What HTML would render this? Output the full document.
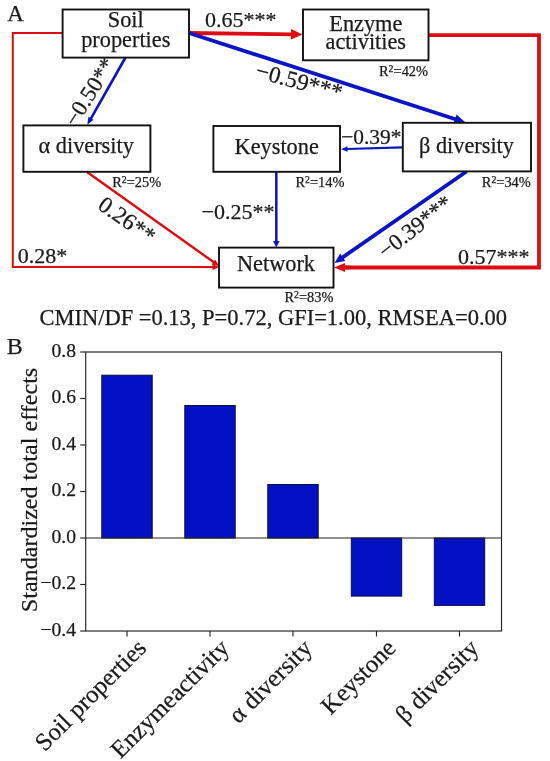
<!DOCTYPE html>
<html><head><meta charset="utf-8"><title>SEM</title>
<style>
html,body{margin:0;padding:0;background:#fff;}
svg{display:block;font-family:"Liberation Serif","DejaVu Serif",serif;fill:#1a1a1a;}
svg text{stroke:#1a1a1a;stroke-width:0.25px;}
</style></head>
<body>
<svg width="550" height="761" viewBox="0 0 550 761">
<rect width="550" height="761" fill="#ffffff"/>
<polyline points="62.5,33 12.8,33 12.8,267.1 213,267.1" fill="none" stroke="#dc0c12" stroke-width="2" stroke-linejoin="miter"/>
<line x1="205.0" y1="267.1" x2="213.9" y2="267.1" stroke="#dc0c12" stroke-width="2"/><polygon points="219.5,267.1 212.5,269.9 212.5,264.3" fill="#dc0c12"/>
<polyline points="428.5,35.1 539,35.1 539,267.5 345,267.5" fill="none" stroke="#dc0c12" stroke-width="3.8" stroke-linejoin="miter"/>
<line x1="350.0" y1="267.5" x2="342.8" y2="267.5" stroke="#dc0c12" stroke-width="3.8"/><polygon points="334.0,267.5 345.0,263.0 345.0,272.0" fill="#dc0c12"/>
<line x1="189.0" y1="33.0" x2="293.3" y2="34.4" stroke="#dc0c12" stroke-width="3.8"/><polygon points="302.5,34.5 290.9,39.6 291.1,29.1" fill="#dc0c12"/>
<line x1="189.0" y1="33.0" x2="457.1" y2="119.8" stroke="#0a14c4" stroke-width="3.8"/><polygon points="465.5,122.5 453.6,123.6 456.5,114.6" fill="#0a14c4"/>
<line x1="125.5" y1="57.5" x2="90.3" y2="119.6" stroke="#0a14c4" stroke-width="2.6"/><polygon points="87.3,124.8 88.4,116.8 93.6,119.8" fill="#0a14c4"/>
<line x1="87.0" y1="172.0" x2="214.6" y2="262.8" stroke="#dc0c12" stroke-width="2.4"/><polygon points="219.5,266.3 211.7,264.4 215.1,259.5" fill="#dc0c12"/>
<line x1="403.0" y1="147.4" x2="346.2" y2="149.0" stroke="#0a14c4" stroke-width="2.1"/><polygon points="341.0,149.2 347.4,146.2 347.6,151.8" fill="#0a14c4"/>
<line x1="276.3" y1="172.0" x2="276.3" y2="242.4" stroke="#0a14c4" stroke-width="2.5"/><polygon points="276.3,247.6 273.1,241.1 279.6,241.1" fill="#0a14c4"/>
<line x1="466.5" y1="171.5" x2="341.1" y2="258.4" stroke="#0a14c4" stroke-width="3.8"/><polygon points="334.5,263.0 340.2,253.6 345.3,261.0" fill="#0a14c4"/>
<rect x="62.6" y="9.5" width="126.4" height="48.1" fill="#fff" stroke="#111" stroke-width="1.9"/>
<rect x="303" y="9.5" width="125.5" height="50.8" fill="#fff" stroke="#111" stroke-width="1.9"/>
<rect x="23.4" y="125.4" width="127.0" height="46.400000000000006" fill="#fff" stroke="#111" stroke-width="1.9"/>
<rect x="213.4" y="126" width="126.6" height="45.80000000000001" fill="#fff" stroke="#111" stroke-width="1.9"/>
<rect x="402.8" y="122.8" width="128.2" height="48.60000000000001" fill="#fff" stroke="#111" stroke-width="1.9"/>
<rect x="219" y="247.6" width="114.5" height="40.00000000000003" fill="#fff" stroke="#111" stroke-width="1.9"/>
<text x="125.8" y="27.2" font-size="22.3" text-anchor="middle">Soil</text>
<text x="125.8" y="47.2" font-size="22.3" text-anchor="middle">properties</text>
<text x="365.8" y="30.5" font-size="22.3" text-anchor="middle">Enzyme</text>
<text x="365.8" y="48.6" font-size="22.3" text-anchor="middle">activities</text>
<text x="86.2" y="153.4" font-size="22.3" text-anchor="middle">α diversity</text>
<text x="276.7" y="154" font-size="22.3" text-anchor="middle">Keystone</text>
<text x="466.5" y="153" font-size="22.3" text-anchor="middle">β diversity</text>
<text x="276" y="270.7" font-size="22.3" text-anchor="middle">Network</text>
<text x="379" y="76" font-size="14" textLength="49" lengthAdjust="spacingAndGlyphs">R<tspan dy="-4" font-size="9.6">2</tspan><tspan dy="4">=42%</tspan></text>
<text x="112.2" y="186.5" font-size="14" textLength="49" lengthAdjust="spacingAndGlyphs">R<tspan dy="-4" font-size="9.6">2</tspan><tspan dy="4">=25%</tspan></text>
<text x="295.4" y="186.5" font-size="14" textLength="49" lengthAdjust="spacingAndGlyphs">R<tspan dy="-4" font-size="9.6">2</tspan><tspan dy="4">=14%</tspan></text>
<text x="481.8" y="187" font-size="14" textLength="49" lengthAdjust="spacingAndGlyphs">R<tspan dy="-4" font-size="9.6">2</tspan><tspan dy="4">=34%</tspan></text>
<text x="284.4" y="301.8" font-size="14" textLength="49" lengthAdjust="spacingAndGlyphs">R<tspan dy="-4" font-size="9.6">2</tspan><tspan dy="4">=83%</tspan></text>
<text x="205" y="26.7" font-size="22" text-anchor="start">0.65***</text>
<text x="17.8" y="263" font-size="22" text-anchor="start">0.28*</text>
<text x="458" y="263.5" font-size="22" text-anchor="start">0.57***</text>
<text x="341.2" y="143.8" font-size="21.4" text-anchor="start">−0.39*</text>
<text x="201.5" y="219.3" font-size="22" text-anchor="start">−0.25**</text>
<text x="76" y="128" font-size="22.8" text-anchor="start" transform="rotate(-58 76 128)">−0.50**</text>
<text x="254.5" y="77.3" font-size="23.2" text-anchor="start" transform="rotate(15 254.5 77.3)">−0.59***</text>
<text x="96.5" y="208" font-size="23.2" text-anchor="start" transform="rotate(35 96.5 208)">0.26**</text>
<text x="385.5" y="259.5" font-size="22.8" text-anchor="start" transform="rotate(-38 385.5 259.5)">−0.39***</text>
<text x="7.2" y="20.9" font-size="23" text-anchor="start">A</text>
<text x="39.4" y="325.4" font-size="22.5" text-anchor="start">CMIN/DF =0.13, P=0.72, GFI=1.00, RMSEA=0.00</text>
<text x="6.8" y="354.2" font-size="24" text-anchor="start">B</text>
<rect x="101.8" y="375.2" width="50.4" height="162.8" fill="#0410c4" stroke="#0c0c40" stroke-width="1"/>
<rect x="184.8" y="405.5" width="50.4" height="132.5" fill="#0410c4" stroke="#0c0c40" stroke-width="1"/>
<rect x="267.8" y="484.5" width="50.4" height="53.5" fill="#0410c4" stroke="#0c0c40" stroke-width="1"/>
<rect x="351.3" y="538.0" width="50.4" height="58.1" fill="#0410c4" stroke="#0c0c40" stroke-width="1"/>
<rect x="434.3" y="538.0" width="50.4" height="67.4" fill="#0410c4" stroke="#0c0c40" stroke-width="1"/>
<rect x="85.7" y="352" width="415.8" height="279" fill="none" stroke="#222" stroke-width="1.15"/>
<line x1="85.7" y1="538.0" x2="501.5" y2="538.0" stroke="#222" stroke-width="1.15"/>
<line x1="80.2" y1="352.0" x2="85.7" y2="352.0" stroke="#222" stroke-width="1.15"/>
<text x="76" y="356.6" font-size="19.6" text-anchor="end">0.8</text>
<line x1="80.2" y1="398.5" x2="85.7" y2="398.5" stroke="#222" stroke-width="1.15"/>
<text x="76" y="403.1" font-size="19.6" text-anchor="end">0.6</text>
<line x1="80.2" y1="445.0" x2="85.7" y2="445.0" stroke="#222" stroke-width="1.15"/>
<text x="76" y="449.6" font-size="19.6" text-anchor="end">0.4</text>
<line x1="80.2" y1="491.5" x2="85.7" y2="491.5" stroke="#222" stroke-width="1.15"/>
<text x="76" y="496.1" font-size="19.6" text-anchor="end">0.2</text>
<line x1="80.2" y1="538.0" x2="85.7" y2="538.0" stroke="#222" stroke-width="1.15"/>
<text x="76" y="542.6" font-size="19.6" text-anchor="end">0.0</text>
<line x1="80.2" y1="584.5" x2="85.7" y2="584.5" stroke="#222" stroke-width="1.15"/>
<text x="76" y="589.1" font-size="19.6" text-anchor="end">−0.2</text>
<line x1="80.2" y1="631.0" x2="85.7" y2="631.0" stroke="#222" stroke-width="1.15"/>
<text x="76" y="635.6" font-size="19.6" text-anchor="end">−0.4</text>
<line x1="127" y1="631" x2="127" y2="636.5" stroke="#222" stroke-width="1.15"/>
<text x="147.5" y="649.5" font-size="24.8" text-anchor="end" transform="rotate(-45 147.5 649.5)">Soil properties</text>
<line x1="210" y1="631" x2="210" y2="636.5" stroke="#222" stroke-width="1.15"/>
<text x="230.5" y="649.5" font-size="24.8" text-anchor="end" transform="rotate(-45 230.5 649.5)">Enzymeactivity</text>
<line x1="293" y1="631" x2="293" y2="636.5" stroke="#222" stroke-width="1.15"/>
<text x="313.5" y="649.5" font-size="24.8" text-anchor="end" transform="rotate(-45 313.5 649.5)">α diversity</text>
<line x1="376.5" y1="631" x2="376.5" y2="636.5" stroke="#222" stroke-width="1.15"/>
<text x="397.0" y="649.5" font-size="24.8" text-anchor="end" transform="rotate(-45 397.0 649.5)">Keystone</text>
<line x1="459.5" y1="631" x2="459.5" y2="636.5" stroke="#222" stroke-width="1.15"/>
<text x="480.0" y="649.5" font-size="24.8" text-anchor="end" transform="rotate(-45 480.0 649.5)">β diversity</text>
<text x="37.4" y="490" font-size="24.1" text-anchor="middle" transform="rotate(-90 37.4 490)">Standardized total effects</text>
</svg>
</body></html>
